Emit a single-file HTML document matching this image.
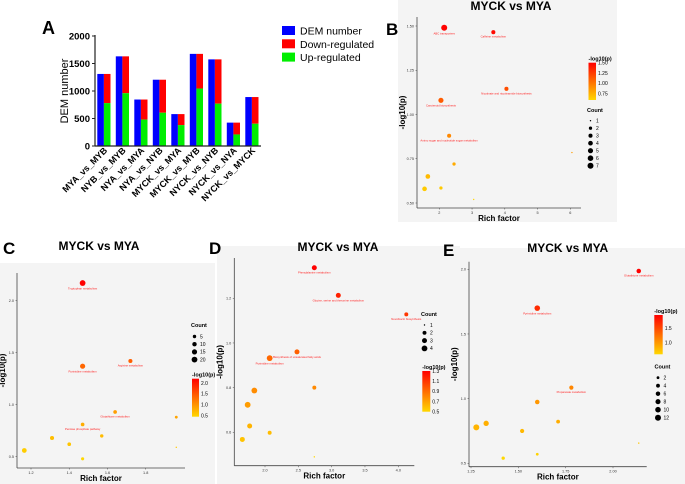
<!DOCTYPE html>
<html><head><meta charset="utf-8">
<style>
html,body{margin:0;padding:0;background:#fff;}
svg{display:block;font-family:"Liberation Sans",Arial,sans-serif;}
</style></head>
<body>
<svg id="fig" width="685" height="484" viewBox="0 0 685 484" xmlns="http://www.w3.org/2000/svg">
<rect x="0" y="0" width="685" height="484" fill="#fff"/>
<rect x="398" y="0" width="219" height="222" fill="#f4f4f4"/>
<rect x="0" y="263" width="215" height="221" fill="#f4f4f4"/>
<rect x="217" y="246" width="243" height="238" fill="#f4f4f4"/>
<rect x="460" y="248" width="225" height="236" fill="#f4f4f4"/>
<g id="gA"></g>
<g id="gB"></g>
<g id="gC"></g>
<g id="gD"></g>
<g id="gE"></g>
</svg>
<script>
// ---- Panel A data ----
const aCategories = ["MYA_vs_MYB","NYB_vs_MYB","NYA_vs_MYA","NYA_vs_NYB","MYCK_vs_MYA","MYCK_vs_MYB","NYCK_vs_NYB","NYCK_vs_NYA","NYCK_vs_MYCK"];
const aTotal = [1310,1630,845,1205,580,1675,1575,425,890];
const aUp = [780,960,480,605,380,1045,770,210,405];
const aTicks = [0,500,1000,1500,2000];

// ---- Panel B data ----
const bRich = [2.15,3.65,4.05,2.05,2.3,2.45,1.65,1.55,2.05,3.05,6.05];
const bLogp = [1.49,1.465,1.145,1.08,0.88,0.72,0.65,0.58,0.585,0.52,0.785];
const bCount = [7,3,3,5,3,2,4,4,2,1,1];
const bLabels = ["ABC transporters","Caffeine metabolism","Nicotinate and nicotinamide biosynthesis","Carotenoid biosynthesis","Amino sugar and nucleotide sugar metabolism","","","","","",""];
const bXTicks = [2,3,4,5,6];
const bYTicks = [0.5,0.75,1.0,1.25,1.5];
const bColorTicks = [0.75,1.0,1.25,1.5];
const bCountTicks = [1,2,3,4,5,6,7];

// ---- Panel C data ----
const cRich = [1.47,1.47,1.72,1.64,1.47,1.96,1.57,1.31,1.40,1.165,1.47,1.96];
const cLogp = [2.17,1.37,1.42,0.93,0.81,0.88,0.70,0.68,0.62,0.56,0.48,0.59];
const cCount = [20,15,8,6,6,3,5,8,6,12,4,1];
const cLabels = ["Tryptophan metabolism","Pyrimidine metabolism","Arginine metabolism","Glutathione metabolism","Pentose phosphate pathway","","","","","","",""];
const cXTicks = [1.2,1.4,1.6,1.8];
const cYTicks = [0.5,1.0,1.5,2.0];
const cColorTicks = [0.5,1.0,1.5,2.0];
const cCountTicks = [5,10,15,20];

// ---- Panel D data ----
const dRich = [2.74,3.1,4.12,2.48,2.07,2.74,1.84,1.74,1.77,2.07,1.66,2.74];
const dLogp = [1.337,1.213,1.128,0.96,0.932,0.80,0.787,0.723,0.628,0.598,0.568,0.49];
const dCount = [3,3,2,3,4,2,4,4,3,2,3,1];
const dLabels = ["Phenylalanine metabolism","Glycine, serine and threonine metabolism","Novobiocin biosynthesis","Biosynthesis of unsaturated fatty acids","Pyrimidine metabolism","","","","","","",""];
const dXTicks = [2.0,2.5,3.0,3.5,4.0];
const dYTicks = [0.6,0.8,1.0,1.2];
const dColorTicks = [0.5,0.7,0.9,1.1,1.3];
const dCountTicks = [1,2,3,4];

// ---- Panel E data ----
const eRich = [2.136,1.60,1.78,1.60,1.71,1.33,1.278,1.52,1.42,1.60,2.136];
const eLogp = [1.987,1.70,1.085,0.974,0.822,0.809,0.778,0.75,0.54,0.57,0.656];
const eCount = [6,10,5,6,4,9,12,5,3,2,1];
const eLabels = ["Glutathione metabolism","Pyrimidine metabolism","Propanoate metabolism","","","","","","","",""];
const eXTicks = [1.25,1.50,1.75,2.00];
const eYTicks = [0.5,1.0,1.5,2.0];
const eColorTicks = [1.0,1.5];
const eCountTicks = [2,4,6,8,10,12];

const NS = "http://www.w3.org/2000/svg";
function mk(parent, tag, attrs, text){
  const e = document.createElementNS(NS, tag);
  for (const k in attrs) e.setAttribute(k, attrs[k]);
  if (text !== undefined) e.textContent = text;
  parent.appendChild(e);
  return e;
}
function lin(d0,d1,r0,r1){ return v => r0 + (v-d0)*(r1-r0)/(d1-d0); }
function heat(t){
  t = Math.max(0,Math.min(1,t));
  // yellow -> orange -> red
  const g = Math.round(215*(1-t));
  return "rgb(255,"+g+",0)";
}

// ---------- Panel A ----------
(function(){
  const g = document.getElementById("gA");
  const y = lin(0,2000,146,36);
  const x0 = 97.3, pitch = 18.5, bw = 6.6;
  const lab = mk(g,"text",{x:42,y:34,"font-size":18,"font-weight":"bold"},"A");
  
  
  aTicks.forEach(t=>{
    const tl = mk(g,"text",{x:90,y:y(t)+3.5,"font-size":9.5,"font-weight":"bold","text-anchor":"end"},String(t));
    
    
    mk(g,"line",{x1:92,x2:95,y1:y(t),y2:y(t),stroke:"#222","stroke-width":1});
  });
  const yt = mk(g,"text",{transform:"translate(68,91) rotate(-90)","font-size":11,"text-anchor":"middle"},"DEM number");
  
  
  aCategories.forEach((c,i)=>{
    const bx = x0 + i*pitch;
    const b1 = mk(g,"rect",{x:bx,y:y(aTotal[i]),width:bw,height:y(0)-y(aTotal[i]),fill:"#0000ff"});
    
    
    const b2 = mk(g,"rect",{x:bx+bw,y:y(aTotal[i]),width:bw,height:y(aUp[i])-y(aTotal[i]),fill:"#ff0000"});
    
    
    const b3 = mk(g,"rect",{x:bx+bw,y:y(aUp[i]),width:bw,height:y(0)-y(aUp[i]),fill:"#00ee00"});
    
    
    const cx = bx+bw+1;
    const xl = mk(g,"text",{transform:"translate("+(cx+3)+",151) rotate(-45)","font-size":9,"font-weight":"bold","text-anchor":"end"},c);
    
    
  });
  mk(g,"line",{x1:95,x2:95,y1:35,y2:146.5,stroke:"#222","stroke-width":1.2});
  mk(g,"line",{x1:95,x2:261,y1:146,y2:146,stroke:"#222","stroke-width":1.2});
  const leg = [["#0000ff","DEM number"],["#ff0000","Down-regulated"],["#00ee00","Up-regulated"]];
  leg.forEach((l,i)=>{
    const ly = 26 + i*13.3;
    const sw = mk(g,"rect",{x:282,y:ly,width:13,height:9,fill:l[0]});
    
    
    const lt = mk(g,"text",{x:300,y:ly+8.5,"font-size":10.5},l[1]);
    
    
  });
})();

// ---------- Bubble panels ----------
function bubble(o){
  const g = document.getElementById(o.id);
  const x = lin(o.xd[0],o.xd[1],o.xr[0],o.xr[1]);
  const y = lin(o.yd[0],o.yd[1],o.yr[0],o.yr[1]);
  const cm = o.cd[0], cM = o.cd[1];
  const rr = c => o.rmin + (o.rmax-o.rmin)*Math.sqrt((c-o.kd[0])/(o.kd[1]-o.kd[0]));
  const pl = mk(g,"text",{x:o.lab[0],y:o.lab[1],"font-size":17,"font-weight":"bold"},o.letter);
  
  
  const tt = mk(g,"text",{x:o.title[0],y:o.title[1],"font-size":12,"font-weight":"bold","text-anchor":"middle"},"MYCK vs MYA");
  
  
  // axes
  mk(g,"line",{x1:o.ax[0],x2:o.ax[0],y1:o.ax[1],y2:o.ax[3],stroke:"#444","stroke-width":0.8});
  mk(g,"line",{x1:o.ax[0],x2:o.ax[2],y1:o.ax[3],y2:o.ax[3],stroke:"#444","stroke-width":0.8});
  o.yt.forEach(t=>{
    mk(g,"line",{x1:o.ax[0]-1.5,x2:o.ax[0],y1:y(t),y2:y(t),stroke:"#444","stroke-width":0.5});
    const l = mk(g,"text",{x:o.ax[0]-3,y:y(t)+1.3,"font-size":3.8,"text-anchor":"end",fill:"#333"},t.toFixed(o.yf));
    
    
  });
  o.xt.forEach(t=>{
    mk(g,"line",{x1:x(t),x2:x(t),y1:o.ax[3],y2:o.ax[3]+1.5,stroke:"#444","stroke-width":0.5});
    const l = mk(g,"text",{x:x(t),y:o.ax[3]+6,"font-size":3.8,"text-anchor":"middle",fill:"#333"},t.toFixed(o.xf));
    
    
  });
  const xt = mk(g,"text",{x:(o.ax[0]+o.ax[2])/2,y:o.ax[3]+13,"font-size":8,"font-weight":"bold","text-anchor":"middle"},"Rich factor");
  
  
  const ytl = mk(g,"text",{transform:"translate("+(o.ax[0]-12)+","+((o.ax[1]+o.ax[3])/2)+") rotate(-90)","font-size":8,"font-weight":"bold","text-anchor":"middle"},"-log10(p)");
  
  
  // points
  o.rich.forEach((rv,i)=>{
    const px = x(rv), py = y(o.logp[i]);
    const c = mk(g,"circle",{cx:px,cy:py,r:rr(o.count[i]),fill:heat((o.logp[i]-cm)/(cM-cm))});
    
    
    if (o.labels[i]){
      const t = mk(g,"text",{x:px,y:py+rr(o.count[i])+3.5,"font-size":2.8,"text-anchor":"middle",fill:"#ff2020"},o.labels[i]);
      
      
    }
  });
  // color legend
  const gid = "grad"+o.id;
  const defs = mk(g,"defs",{});
  const lg = mk(defs,"linearGradient",{id:gid,x1:0,y1:1,x2:0,y2:0});
  mk(lg,"stop",{offset:"0%","stop-color":heat(0)});
  mk(lg,"stop",{offset:"50%","stop-color":heat(0.5)});
  mk(lg,"stop",{offset:"100%","stop-color":heat(1)});
  const ct = mk(g,"text",{x:o.cb[0],y:o.cb[1]-2,"font-size":5.5,"font-weight":"bold"},"-log10(p)");
  
  
  const cb = mk(g,"rect",{x:o.cb[0],y:o.cb[1],width:o.cb[2],height:o.cb[3],fill:"url(#"+gid+")"});
  
  
  const cy = lin(o.cl[0],o.cl[1],o.cb[1]+o.cb[3],o.cb[1]);
  o.ct.forEach(t=>{
    const l = mk(g,"text",{x:o.cb[0]+o.cb[2]+2,y:cy(t)+1.8,"font-size":5},t.toFixed(o.cf));
    
    
  });
  // count legend
  const kt = mk(g,"text",{x:o.kl[0]-2,y:o.kl[1],"font-size":5.5,"font-weight":"bold"},"Count");
  
  
  o.kt.forEach((k,i)=>{
    const ky = o.kl[1]+o.kl[2]+i*o.kl[3];
    const d = mk(g,"circle",{cx:o.kl[0]+1.5,cy:ky,r:rr(k),fill:"#000"});
    
    
    const l = mk(g,"text",{x:o.kl[0]+7,y:ky+1.8,"font-size":5},String(k));
    
    
  });
}

bubble({id:"gB",letter:"B",lab:[386,35],title:[511,10],ax:[417,17,581,208],
  xd:[2,6],xr:[439.3,570.3],yd:[0.5,1.5],yr:[203,26],xf:0,yf:2,
  rich:bRich,logp:bLogp,count:bCount,labels:bLabels,xt:bXTicks,yt:bYTicks,
  cd:[0.52,1.5],cb:[588.5,62.7,7.5,37.3],cl:[0.6,1.5],ct:bColorTicks,cf:2,
  kd:[1,7],rmin:0.7,rmax:3,kl:[589,112,8.7,7.5],kt:bCountTicks});
bubble({id:"gC",letter:"C",lab:[3,254],title:[99,250],ax:[17,273,185,468],
  xd:[1.2,1.8],xr:[31,145.7],yd:[0.5,2.0],yr:[456.7,300.7],xf:1,yf:1,
  rich:cRich,logp:cLogp,count:cCount,labels:cLabels,xt:cXTicks,yt:cYTicks,
  cd:[0.48,2.17],cb:[192,378.7,7,38],cl:[0.45,2.2],ct:cColorTicks,cf:1,
  kd:[1,20],rmin:0.7,rmax:2.9,kl:[193,327,9.5,7.7],kt:cCountTicks});
bubble({id:"gD",letter:"D",lab:[209,254],title:[338,251],ax:[234.3,258,414.3,465.7],
  xd:[2.0,4.0],xr:[265,398.3],yd:[0.6,1.2],yr:[432.3,298.3],xf:1,yf:1,
  rich:dRich,logp:dLogp,count:dCount,labels:dLabels,xt:dXTicks,yt:dYTicks,
  cd:[0.49,1.34],cb:[422.3,371,8,40.7],cl:[0.5,1.3],ct:dColorTicks,cf:1,
  kd:[1,4],rmin:0.7,rmax:2.9,kl:[423,316,9,7.8],kt:dCountTicks});
bubble({id:"gE",letter:"E",lab:[443,256],title:[567.7,252],ax:[469,261.7,646.7,466.7],
  xd:[1.25,2.0],xr:[471,613],yd:[0.5,2.0],yr:[463.3,269.3],xf:2,yf:1,
  rich:eRich,logp:eLogp,count:eCount,labels:eLabels,xt:eXTicks,yt:eYTicks,
  cd:[0.54,1.99],cb:[654.3,315,8.4,39.3],cl:[0.6,1.95],ct:eColorTicks,cf:1,
  kd:[1,12],rmin:0.7,rmax:3,kl:[656.5,368.3,9.4,8],kt:eCountTicks});
</script>
</body></html>
